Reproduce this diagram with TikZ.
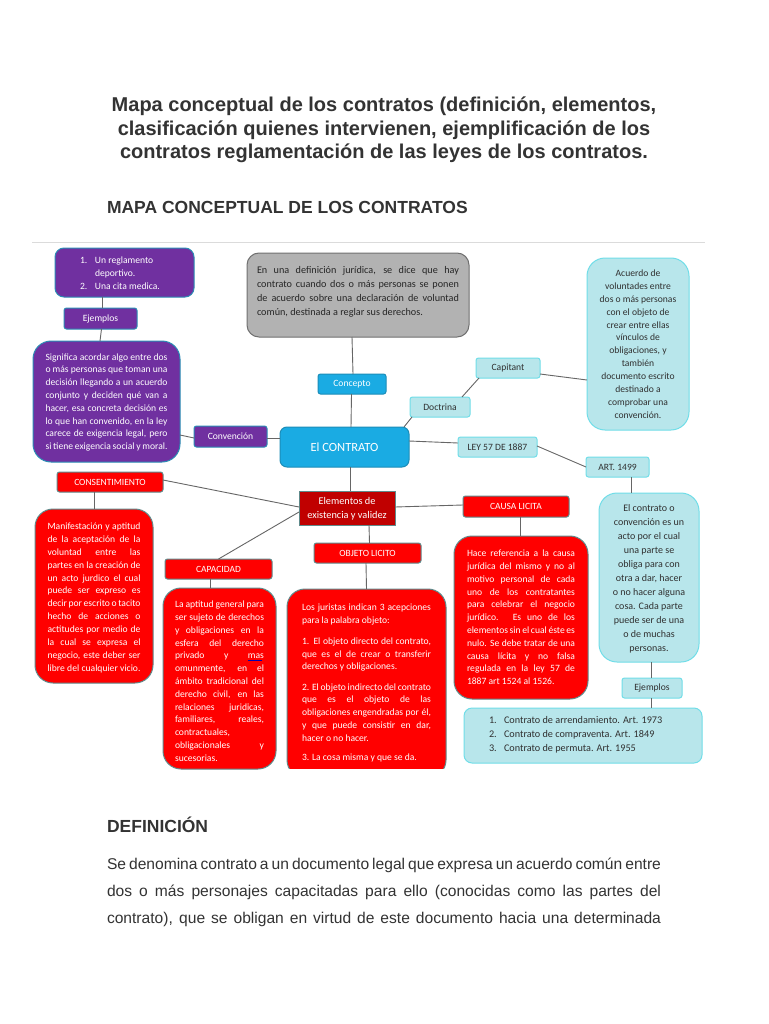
\documentclass[tikz,border=0pt]{standalone}
\usepackage{fontspec}
\setmainfont{Carlito}
\newfontfamily\arialf{Liberation Sans}
\definecolor{cpurple}{HTML}{7030A0}
\definecolor{bpurple}{HTML}{2B8CB4}
\definecolor{cred}{HTML}{FF0000}
\definecolor{bred}{HTML}{5F8A8B}
\definecolor{cdred}{HTML}{C00000}
\definecolor{cblue}{HTML}{1AABE3}
\definecolor{bblue}{HTML}{1C8DB8}
\definecolor{clight}{HTML}{B8E6EB}
\definecolor{blight}{HTML}{70DDE8}
\definecolor{cgray}{HTML}{B2B2B2}
\definecolor{bgray}{HTML}{707070}
\definecolor{ink}{HTML}{303030}
\definecolor{webink}{HTML}{333333}
\tikzset{
  box/.style={draw,line width=1pt,inner sep=0pt,outer sep=0pt,align=center,font=\fontsize{9.6}{12.8}\selectfont},
  purplebox/.style={box,fill=cpurple,draw=bpurple,text=white},
  redbox/.style={box,fill=cred,draw=bred,text=white},
  capsbox/.style={redbox,font=\fontsize{9.5}{11}\selectfont},
  lightbox/.style={box,fill=clight,draw=blight,text=ink},
  bluebox/.style={box,fill=cblue,draw=bblue,text=white},
  graybox/.style={box,fill=cgray,draw=bgray,text=black!85},
  darkredbox/.style={box,fill=cdred,draw=bred,text=white,rounded corners=0pt,font=\fontsize{10.3}{14}\selectfont},
  tag/.style={rounded corners=2.5pt},
  big/.style={rounded corners=18pt},
  link/.style={draw=black!60,line width=0.9pt},
  webtext/.style={inner sep=0pt,outer sep=0pt,text=webink}
}
\newcommand\bx[7]{\pgfmathsetmacro\bw{#5-#3}\pgfmathsetmacro\bh{#6-#4}%
  \node[#2,minimum width=\bw pt,minimum height=\bh pt] (#1) at ({(#3+#5)/2},{(#4+#6)/2}) {#7};}
\newcommand\tbx[3]{\parbox[c][\bh pt][t]{#1pt}{\vspace*{#2pt}#3}}
\newcommand\jst[1]{\makebox[\linewidth][s]{#1}\par}
\newcommand\lft[1]{\makebox[\linewidth][l]{#1}\par}
\newcommand\ctr[1]{\makebox[\linewidth][c]{#1}\par}
\newcommand\vgapp[1]{\vspace{#1pt}}
\begin{document}
\begin{tikzpicture}[x=1pt,y=-1pt]
\useasboundingbox (0,0) rectangle (768,1024);
\fill[white] (0,0) rectangle (768,1024);
% headings
\node[webtext,align=center,font=\arialf\bfseries\fontsize{20}{23.6}\selectfont] (title) at (384,130)
  {Mapa conceptual de los contratos (definición, elementos,\\clasificación quienes intervienen, ejemplificación de los\\contratos reglamentación de las leyes de los contratos.};
\node[webtext,anchor=west,font=\arialf\bfseries\fontsize{17.5}{20}\selectfont] (heading) at (107,207.5) {MAPA CONCEPTUAL DE LOS CONTRATOS};
\coordinate (ruleL) at (32,242.5);
\coordinate (ruleR) at (705,242.5);
\draw[black!14,line width=1pt] (ruleL) -- (ruleR);
% purple
\bx{pej}{purplebox,rounded corners=9pt}{55}{248}{194}{297}{\tbx{110}{9}{%
  \fontsize{9.6}{13}\selectfont
  \lft{\hspace*{10.5pt}\makebox[15pt][l]{1.}Un reglamento}
  \lft{\hspace*{25.5pt}deportivo.}
  \lft{\hspace*{10.5pt}\makebox[15pt][l]{2.}Una cita medica.}}}
\bx{pejl}{purplebox,tag}{64}{308}{137}{329}{Ejemplos}
\bx{pdef}{purplebox,big}{33}{341}{180}{462}{\tbx{122}{12.5}{%
  \jst{Significa acordar algo entre dos}
  \jst{o más personas que toman una}
  \jst{decisión llegando a un acuerdo}
  \jst{conjunto y deciden qué van a}
  \jst{hacer, esa concreta decisión es}
  \jst{lo que han convenido, en la ley}
  \jst{carece de exigencia legal, pero}
  \jst{si tiene exigencia social y moral.}}}
\bx{conv}{purplebox,tag}{194}{426}{267}{447}{Convención}
% gray / centre
\bx{gdef}{graybox,rounded corners=12pt}{247}{253}{469}{337}{\tbx{202}{13.5}{%
  \fontsize{10.2}{14}\selectfont
  \jst{En una definición jurídica, se dice que hay}
  \jst{contrato cuando dos o más personas se ponen}
  \jst{de acuerdo sobre una declaración de voluntad}
  \lft{común, destinada a reglar sus derechos.}}}
\bx{conc}{bluebox,tag}{318}{374}{386}{394}{Concepto}
\bx{main}{bluebox,rounded corners=7pt,font=\fontsize{12.5}{14}\selectfont}{280}{427}{409}{467}{El CONTRATO}
\bx{elem}{darkredbox}{299}{491}{395}{525}{\tbx{95}{6.5}{\ctr{Elementos de}\ctr{existencia y validez}}}
% right
\bx{doct}{lightbox,tag}{410}{397}{470}{417}{Doctrina}
\bx{capi}{lightbox,tag}{476}{358}{540}{378}{Capitant}
\bx{acue}{lightbox,big}{587}{258}{689}{430}{\tbx{84}{12}{%
  \fontsize{9.6}{12.85}\selectfont
  \ctr{Acuerdo de}
  \ctr{voluntades entre}
  \ctr{dos o más personas}
  \ctr{con el objeto de}
  \ctr{crear entre ellas}
  \ctr{vínculos de}
  \ctr{obligaciones, y}
  \ctr{también}
  \ctr{documento escrito}
  \ctr{destinado a}
  \ctr{comprobar una}
  \ctr{convención.}}}
\bx{ley}{lightbox,tag}{458}{437}{537}{457}{LEY 57 DE 1887}
\bx{art}{lightbox,tag}{586}{457}{649}{477}{ART. 1499}
\bx{ecc}{lightbox,big}{599}{493}{699}{662}{\tbx{88}{12}{%
  \fontsize{10}{14}\selectfont
  \ctr{El contrato o}
  \ctr{convención es un}
  \ctr{acto por el cual}
  \ctr{una parte se}
  \ctr{obliga para con}
  \ctr{otra a dar, hacer}
  \ctr{o no hacer alguna}
  \ctr{cosa. Cada parte}
  \ctr{puede ser de una}
  \ctr{o de muchas}
  \ctr{personas.}}}
\bx{ejr}{lightbox,tag}{622}{678}{682}{698}{Ejemplos}
\bx{ejl}{lightbox,rounded corners=8pt}{464}{708}{702}{763}{\tbx{198}{8}{%
  \fontsize{10.2}{14}\selectfont
  \lft{\hspace*{5pt}\makebox[15pt][l]{1.}Contrato de arrendamiento. Art. 1973}
  \lft{\hspace*{5pt}\makebox[15pt][l]{2.}Contrato de compraventa. Art. 1849}
  \lft{\hspace*{5pt}\makebox[15pt][l]{3.}Contrato de permuta. Art. 1955}}}
% red
\bx{cons}{capsbox,tag}{57}{472}{163}{492}{CONSENTIMIENTO}
\bx{consd}{redbox,big}{35}{509}{153}{683}{\tbx{93}{14}{%
  \fontsize{9.6}{12.85}\selectfont
  \jst{Manifestación y aptitud}
  \jst{de la aceptación de la}
  \jst{voluntad entre las}
  \jst{partes en la creación de}
  \jst{un acto jurdico el cual}
  \jst{puede ser expreso es}
  \jst{decir por escrito o tacito}
  \jst{hecho de acciones o}
  \jst{actitudes por medio de}
  \jst{la cual se expresa el}
  \jst{negocio, este deber ser}
  \jst{libre del cualquier vicio.}}}
\bx{capa}{capsbox,tag}{165}{559}{272}{579}{CAPACIDAD}
\bx{capad}{redbox,big}{163}{588}{276}{769}{\tbx{89}{13}{%
  \jst{La aptitud general para}
  \jst{ser sujeto de derechos}
  \jst{y obligaciones en la}
  \jst{esfera del derecho}
  \jst{privado y \rlap{\textcolor{blue!70!black}{\rule[-1.6pt]{14pt}{0.5pt}}}mas}
  \jst{omunmente, en el}
  \jst{ámbito tradicional del}
  \jst{derecho civil, en las}
  \jst{relaciones juridicas,}
  \jst{familiares, reales,}
  \lft{contractuales,}
  \jst{obligacionales y}
  \lft{sucesorias.}}}
\bx{obje}{capsbox,tag}{314}{543}{421}{563}{OBJETO LICITO}
\bx{objed}{redbox,big}{287}{589}{446}{778}{\tbx{129}{15}{%
  \jst{Los juristas indican 3 acepciones}
  \lft{para la palabra objeto:}
  \vgapp{8}
  \jst{1. El objeto directo del contrato,}
  \jst{que es el de crear o transferir}
  \lft{derechos y obligaciones.}
  \vgapp{7.5}
  \jst{2. El objeto indirecto del contrato}
  \jst{que es el objeto de las}
  \jst{obligaciones engendradas por él,}
  \jst{y que puede consistir en dar,}
  \lft{hacer o no hacer.}
  \vgapp{6.5}
  \lft{3. La cosa misma y que se da.}}}
\fill[white] (285,769) rectangle (449,780);
\bx{caus}{capsbox,tag}{463}{496}{569}{517}{CAUSA LICITA}
\bx{causd}{redbox,big}{454}{536}{588}{699}{\tbx{108}{14}{%
  \jst{Hace referencia a la causa}
  \jst{jurídica del mismo y no al}
  \jst{motivo personal de cada}
  \jst{uno de los contratantes}
  \jst{para celebrar el negocio}
  \jst{jurídico. Es uno de los}
  \jst{elementos sin el cual éste es}
  \jst{nulo. Se debe tratar de una}
  \jst{causa lícita y no falsa}
  \jst{regulada en la ley 57 de}
  \lft{1887 art 1524 al 1526.}}}
% connectors (yshift is in page sense: positive moves up)
\draw[link] ([xshift=-22.5pt]pej.south) -- ([xshift=1.5pt]pejl.north);
\draw[link] ([xshift=1pt]pejl.south) -- ([xshift=-6.5pt]pdef.north);
\draw[link] ([yshift=-33.5pt]pdef.east) -- ([yshift=-1.5pt]conv.west);
\draw[link] ([yshift=-1.5pt]conv.east) -- ([yshift=-1.5pt]conv.east -| main.west);
\draw[link] ([xshift=-6pt]gdef.south) -- ([xshift=1pt]conc.north);
\draw[link] ([xshift=-0.5pt]conc.south) -- ([xshift=6.5pt]main.north);
\draw[link] ([xshift=5.5pt]main.south) -- ([xshift=3pt]elem.north);
\draw[link] ([xshift=-5pt]main.north east) -- ([xshift=2pt]doct.south west);
\draw[link] ([xshift=22pt]doct.north) -- ([xshift=3pt]capi.south west);
\draw[link] ([yshift=-6pt]capi.east) -- ([yshift=-36pt]acue.west);
\draw[link] ([yshift=6pt]main.east) -- ([yshift=4pt]ley.west);
\draw[link] ([yshift=1pt]ley.east) -- (art.west);
\draw[link] ([xshift=13.5pt]art.south) -- ([xshift=-18pt]ecc.north);
\draw[link] ([xshift=2pt]ecc.south) -- ([xshift=-1pt]ejr.north);
\draw[link] ([xshift=-1pt]ejr.south) -- ([xshift=68pt]ejl.north);
\draw[link] ([yshift=2pt]cons.east) -- ([yshift=1pt]elem.west);
\draw[link] ([xshift=-16pt]cons.south) -- (consd.north);
\draw[link] (capa.north) -- ([yshift=-4pt]elem.west);
\draw[link] ([xshift=-8.5pt]capa.south) -- ([xshift=-9.5pt]capad.north);
\draw[link] ([xshift=22pt]elem.south) -- ([xshift=2pt]obje.north);
\draw[link] ([xshift=-1.5pt]obje.south) -- (objed.north);
\draw[link] ([yshift=1pt]elem.east) -- ([yshift=1.5pt]caus.west);
\draw[link] ([xshift=4pt]caus.south) -- ([xshift=-1pt]causd.north);
% lower text
\node[webtext,anchor=west,font=\arialf\bfseries\fontsize{17.5}{20}\selectfont] (defh) at (107,825) {DEFINICIÓN};
\node[webtext,anchor=north west,font=\arialf\fontsize{15.6}{27}\selectfont] (para) at (107,858)
  {\parbox[t]{554pt}{%
   \jst{Se denomina contrato a un documento legal que expresa un acuerdo común entre}
   \jst{dos o más personajes capacitadas para ello (conocidas como las partes del}
   \jst{contrato), que se obligan en virtud de este documento hacia una determinada}}};
\end{tikzpicture}
\end{document}
